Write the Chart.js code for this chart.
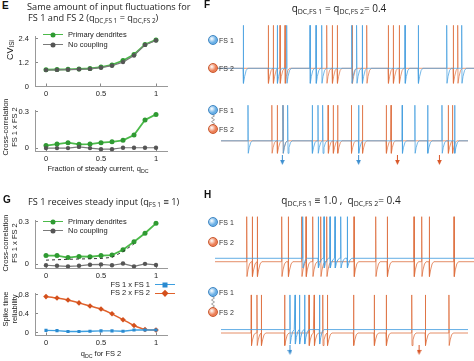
<!DOCTYPE html>
<html><head><meta charset="utf-8">
<script src="https://cdn.jsdelivr.net/npm/chart.js@4.4.1/dist/chart.umd.min.js"></script>
<style>
html,body{margin:0;padding:0;background:#fff;}
#wrap{position:relative;width:474px;height:361px;overflow:hidden;background:#fff;font-family:"Liberation Sans",Arial,sans-serif;color:#222;}
canvas{position:absolute;}
.t{position:absolute;white-space:nowrap;line-height:1;}
.ttl{font-family:"Open Sans",sans-serif;font-size:9.2px;color:#222;}
.ttr{font-family:"Open Sans",sans-serif;font-size:10px;color:#222;}
.pl{font-family:"Liberation Sans",Arial,sans-serif;font-weight:bold;font-size:10px;color:#111;}
sub{font-size:70%;vertical-align:-0.25em;line-height:0;}
.rot{transform:translate(-50%,-50%) rotate(-90deg);text-align:center;}
.cx{transform:translate(-50%,-50%);}
.lg{font-size:7.5px;color:#222;}
.ax{font-size:7.5px;color:#222;}
.ln{position:absolute;height:0;}
.dot{position:absolute;border-radius:50%;transform:translate(-50%,-50%);}
.cell{position:absolute;width:8px;height:8px;border-radius:50%;transform:translate(-50%,-50%);}
.fl{font-size:7px;color:#333;}
</style></head><body><div id="wrap">
<canvas id="cv" width="175" height="77" style="left:0;top:23px"></canvas>
<canvas id="ccE" width="175" height="68" style="left:0;top:97px"></canvas>
<canvas id="ccG" width="175" height="75" style="left:0;top:207px"></canvas>
<canvas id="rel" width="175" height="69" style="left:0;top:280px"></canvas>
<canvas id="fTop" width="259" height="70" style="left:215px;top:20px"></canvas>
<canvas id="fBot" width="259" height="76" style="left:215px;top:95px"></canvas>
<canvas id="hTop" width="259" height="70" style="left:215px;top:208px"></canvas>
<canvas id="hBot" width="259" height="78" style="left:215px;top:283px"></canvas>

<div class="t pl" style="left:2px;top:1px">E</div>
<div class="t ttl" style="left:27px;top:2px">Same amount of input fluctuations for</div>
<div class="t ttl" style="left:28px;top:12.5px">FS 1 and FS 2 (q<sub>DC,FS 1</sub> = q<sub>DC,FS 2</sub>)</div>
<div class="t pl" style="left:3px;top:195px">G</div>
<div class="t ttl" style="left:28px;top:196.5px">FS 1 receives steady input (q<sub>FS 1</sub> ≡ 1)</div>
<div class="t pl" style="left:204px;top:0px">F</div>
<div class="t ttr cx" style="left:339px;top:8px">q<sub>DC,FS 1</sub> = q<sub>DC,FS 2</sub>= 0.4</div>
<div class="t pl" style="left:204px;top:190px">H</div>
<div class="t ttr cx" style="left:341px;top:200px">q<sub>DC,FS 1</sub> ≡ 1.0 ,&nbsp; q<sub>DC,FS 2</sub>= 0.4</div>

<div class="t rot" style="left:10px;top:50px;font-size:9px">CV<sub>ISI</sub></div>
<div class="t rot ax" style="left:9.5px;top:127px;line-height:9px">Cross-correlation<br>FS 1 x FS 2</div>
<div class="t rot ax" style="left:9.5px;top:243px;line-height:9px">Cross-correlation<br>FS 1 x FS 2</div>
<div class="t rot ax" style="left:9.5px;top:309px;line-height:9px">Spike time<br>reliability</div>
<div class="t cx ax" style="left:98px;top:169px">Fraction of steady current, q<sub>DC</sub></div>
<div class="t cx ax" style="left:101px;top:354px">q<sub>DC</sub> for FS 2</div>

<div id="legends"></div>
<div id="cells"></div>
</div>
<script>
// ---------- data ----------
const qdc = [0, 0.1, 0.2, 0.3, 0.4, 0.5, 0.6, 0.7, 0.8, 0.9, 1.0];
const xTickVals = [0, 0.5, 1];
const xTickLabels = ['0', '0.5', '1'];

const cvPrimary = [0.84, 0.85, 0.86, 0.88, 0.90, 0.97, 1.08, 1.30, 1.60, 2.10, 2.33];
const cvNoCoupling = [0.82, 0.83, 0.84, 0.86, 0.88, 0.94, 1.04, 1.22, 1.55, 2.08, 2.30];
const cvTickVals = [0, 1.2, 2.4];
const cvTickLabels = ['0', '1.2', '2.4'];

const ccEPrimary = [0.023, 0.035, 0.047, 0.033, 0.035, 0.047, 0.054, 0.066, 0.110, 0.234, 0.280];
const ccENoCoupling = [0.002, 0.002, 0.002, 0.012, 0.002, -0.007, -0.007, 0.005, 0.005, 0.005, 0.005];
const ccTickVals = [0, 0.3];
const ccTickLabels = ['0', '0.3'];

const ccGPrimary = [0.062, 0.062, 0.048, 0.056, 0.054, 0.062, 0.066, 0.103, 0.160, 0.220, 0.290];
const ccGNoCoupling = [-0.006, -0.010, -0.014, -0.010, -0.002, 0.000, -0.006, 0.006, -0.014, 0.004, -0.004];
const ccGDashedX = [0, 0.1, 0.2, 0.3, 0.4, 0.5, 0.6, 0.7, 0.8];
const ccGDashed = [0.030, 0.033, 0.036, 0.038, 0.040, 0.042, 0.050, 0.090, 0.145];

const relFS1 = [0.054, 0.048, 0.030, 0.030, 0.036, 0.042, 0.042, 0.036, 0.060, 0.060, 0.060];
const relFS2 = [0.758, 0.728, 0.687, 0.627, 0.561, 0.500, 0.400, 0.275, 0.155, 0.072, 0.060];
const relTickVals = [0, 0.4, 0.8];
const relTickLabels = ['0', '0.4', '0.8'];

// spike times (ms)
const fTopFS1 = [28.3, 62.3, 71.7, 95, 101, 106.7, 136.7, 141.7, 147.3, 190, 203.3, 231.7, 246.7];
const fTopFS2 = [53.3, 58.3, 65, 70, 111.7, 117.3, 122.3, 137.3, 151.7, 173.3, 178.3, 184.3, 238.3, 242.7];
const fBotFS1 = [28.3, 65, 70, 95.7, 101.7, 106.7, 144.3, 190, 203.3, 216.7, 231.7, 245];
const fBotFS2 = [53.3, 59, 65, 112.3, 117.7, 122.3, 136.7, 148.3, 173.3, 178.3, 238.3, 242.7];
const hTopFS1 = [87.7, 103.3, 109, 115, 120, 125.7, 132.3];
const hTopFS2 = [31.7, 37.3, 42.3, 66.7, 73.3, 86.7, 91, 97.7, 105.7, 111.7, 139, 160.7, 172.3, 199, 206.7, 214.3, 239];
const hBotFS1 = [72.3, 77.7, 82.3, 87.7, 103.3];
const hBotFS2 = [31.7, 37.7, 42.3, 66.7, 92.3, 97.7, 106.7, 111.7, 139, 160.7, 173.3, 200, 214.3, 239];
const fArrowsFS1 = [64.3, 144.3];
const fArrowsFS2 = [185, 229];
const hArrowsFS1 = [72.3];
const hArrowsFS2 = [207.7];
// membrane levels (mV)
const restF = -60, peakV = 40, troughF = -95;
const restH1 = -52.4, restH2 = -60, troughH1 = -74, troughH2 = -93;
const restH1b = -51, troughH1b = -89;

// ---------- styles ----------
const GREEN = '#4cba4a', GREEN_D = '#2f9a32', GRAY = '#7a7a7a', GRAY_D = '#555';
const BLUE = '#3d9fe0', ORANGE = '#e0622c';
const TBLUE = 'rgba(72,160,224,0.85)', TORANGE = 'rgba(222,110,62,0.78)';
const FONT = {family: 'Liberation Sans', size: 7.5};

const xy = (xs, ys) => xs.map((x, i) => ({x, y: ys[i]}));

function leftChart(id, yMin, yMax, yTicks, yLabels, datasets) {
  return new Chart(document.getElementById(id), {
    type: 'line',
    data: {datasets},
    options: {
      responsive: false, animation: false, devicePixelRatio: 1,
      layout: {padding: {top: 8, right: 8, left: 0, bottom: 0}},
      plugins: {legend: {display: false}, tooltip: {enabled: false}},
      elements: {line: {tension: 0}},
      scales: {
        x: {
          type: 'linear', min: -0.1, max: 1.1,
          afterBuildTicks: a => { a.ticks = xTickVals.map(v => ({value: v})); },
          afterFit: s => { s.height = 12; },
          grid: {display: true, drawOnChartArea: false, drawTicks: true, tickLength: -3, color: '#888'},
          border: {display: true, color: '#999', width: 1},
          ticks: {padding: 6, font: FONT, color: '#222', maxRotation: 0, autoSkip: false,
                  callback: v => xTickLabels[xTickVals.indexOf(v)]}
        },
        y: {
          type: 'linear', min: yMin, max: yMax,
          afterBuildTicks: a => { a.ticks = yTicks.map(v => ({value: v})); },
          afterFit: s => { s.width = 35; },
          grid: {display: true, drawOnChartArea: false, drawTicks: true, tickLength: -3, color: '#888'},
          border: {display: true, color: '#999', width: 1},
          ticks: {padding: 9, font: FONT, color: '#222', autoSkip: false,
                  callback: v => yLabels[yTicks.indexOf(v)]}
        }
      }
    }
  });
}

function ser(data, color, ptColor, width, radius, style, extra) {
  return Object.assign({data, borderColor: color, borderWidth: width, pointRadius: radius,
    pointBackgroundColor: ptColor, pointBorderColor: ptColor, pointBorderWidth: 0,
    pointStyle: style || 'circle', fill: false}, extra || {});
}

leftChart('cv', 0, 2.5, cvTickVals, cvTickLabels, [
  ser(xy(qdc, cvNoCoupling), GRAY, GRAY_D, 1.2, 2.2),
  ser(xy(qdc, cvPrimary), GREEN, GREEN_D, 1.8, 2.5)
]);
leftChart('ccE', -0.026, 0.312, ccTickVals, ccTickLabels, [
  ser(xy(qdc, ccENoCoupling), GRAY, GRAY_D, 1.2, 2.2),
  ser(xy(qdc, ccEPrimary), GREEN, GREEN_D, 1.8, 2.5)
]);
leftChart('ccG', -0.029, 0.31, ccTickVals, ccTickLabels, [
  ser(xy(ccGDashedX, ccGDashed), '#333', '#333', 1, 0, 'circle', {borderDash: [3, 3]}),
  ser(xy(qdc, ccGNoCoupling), GRAY, GRAY_D, 1.2, 2.2),
  ser(xy(qdc, ccGPrimary), GREEN, GREEN_D, 1.8, 2.5)
]);
leftChart('rel', -0.054, 0.823, relTickVals, relTickLabels, [
  ser(xy(qdc, relFS1), BLUE, '#2a8ad0', 1.4, 2.2, 'rect'),
  ser(xy(qdc, relFS2), ORANGE, '#d4501c', 1.4, 2.8, 'rectRot', {tension: 0.25})
]);

// ---------- traces ----------
function buildTrace(times, base, peak, trough) {
  const s = [...times].sort((a, b) => a - b);
  const pts = [{x: 0, y: base}];
  let last = 0;
  s.forEach((t, i) => {
    const nxt = i + 1 < s.length ? s[i + 1] : 1e9;
    const seg = [[t - 0.25, base], [t, peak], [t + 0.3, trough],
                 [t + 1.3, trough + (base - trough) * 0.45],
                 [t + 2.8, trough + (base - trough) * 0.85], [t + 4.5, base]];
    seg.forEach(([x, y]) => { if (x > last && x < nxt - 0.25) { pts.push({x, y}); last = x; } });
  });
  pts.push({x: 259, y: base});
  return pts;
}
function arrowImg(color) {
  const c = document.createElement('canvas'); c.width = 5; c.height = 10;
  const g = c.getContext('2d'); g.strokeStyle = color; g.fillStyle = color; g.lineWidth = 1;
  g.beginPath(); g.moveTo(2.5, 0); g.lineTo(2.5, 7); g.stroke();
  g.beginPath(); g.moveTo(0.2, 5); g.lineTo(4.8, 5); g.lineTo(2.5, 10); g.closePath(); g.fill();
  return c;
}
function traceChart(id, yMin, yMax, datasets) {
  return new Chart(document.getElementById(id), {
    type: 'line',
    data: {datasets},
    options: {
      responsive: false, animation: false, devicePixelRatio: 1,
      layout: {padding: 0},
      plugins: {legend: {display: false}, tooltip: {enabled: false}},
      elements: {line: {tension: 0}, point: {radius: 0}},
      scales: {x: {type: 'linear', display: false, min: 0, max: 259},
               y: {type: 'linear', display: false, min: yMin, max: yMax}}
    }
  });
}
const tr = (data, color, w) => ({data, borderColor: color, borderWidth: w || 0.9, pointRadius: 0, fill: false});
const arrows = (times, y, color) => ({type: 'scatter', data: times.map(t => ({x: t, y})),
  pointStyle: arrowImg(color), pointRadius: 5, showLine: false});

traceChart('fTop', -110.5, 52.3, [
  tr(buildTrace(fTopFS1, restF, peakV, troughF), TBLUE),
  tr(buildTrace(fTopFS2, restF, peakV, troughF), TORANGE)
]);
traceChart('fBot', -127.8, 51.8, [
  tr(buildTrace(fBotFS1, restF, peakV, troughF), TBLUE),
  tr(buildTrace(fBotFS2, restF, peakV, troughF), TORANGE),
  arrows(fArrowsFS1, -113.7, '#3d8fd0'),
  arrows(fArrowsFS2, -113.7, '#d9582a')
]);
traceChart('hTop', -96.2, 59.3, [
  tr(buildTrace(hTopFS1, restH1, peakV, troughH1), TBLUE, 1),
  tr(buildTrace(hTopFS2, restH2, peakV, troughH2), TORANGE, 1)
]);
traceChart('hBot', -117.8, 55.6, [
  tr(buildTrace(hBotFS1, restH1b, peakV, troughH1b), TBLUE, 1),
  tr(buildTrace(hBotFS2, restH2, peakV, troughH2), TORANGE, 1),
  arrows(hArrowsFS1, -104.4, '#3d8fd0'),
  arrows(hArrowsFS2, -104.4, '#d9582a')
]);

// ---------- legends (html) ----------
const L = document.getElementById('legends');
function legendItem(x1, x2, y, color, dotColor, shape, label, textX, align) {
  const ln = document.createElement('div');
  ln.className = 'ln';
  ln.style.cssText = `left:${x1}px;width:${x2 - x1}px;top:${y - 0.75}px;border-top:1.5px solid ${color};`;
  L.appendChild(ln);
  const d = document.createElement('div');
  d.className = 'dot';
  const sz = shape === 'diamond' ? 4.5 : 5;
  d.style.cssText = `left:${(x1 + x2) / 2}px;top:${y}px;width:${sz}px;height:${sz}px;background:${dotColor};` +
    (shape === 'square' ? 'border-radius:0;' : shape === 'diamond' ? 'border-radius:0;transform:translate(-50%,-50%) rotate(45deg);' : '');
  L.appendChild(d);
  const t = document.createElement('div');
  t.className = 't lg';
  t.textContent = label;
  if (align === 'right') t.style.cssText = `right:${474 - textX}px;top:${y}px;transform:translateY(-50%);`;
  else t.style.cssText = `left:${textX}px;top:${y}px;transform:translateY(-50%);`;
  L.appendChild(t);
}
legendItem(43, 63, 35, GREEN, GREEN_D, 'circle', 'Primary dendrites', 68);
legendItem(43, 63, 45, GRAY, GRAY_D, 'circle', 'No coupling', 68);
legendItem(43, 63, 221.7, GREEN, GREEN_D, 'circle', 'Primary dendrites', 68);
legendItem(43, 63, 231, GRAY, GRAY_D, 'circle', 'No coupling', 68);
legendItem(155, 175, 285, BLUE, '#2a8ad0', 'square', 'FS 1 x FS 1', 150, 'right');
legendItem(155, 175, 293.3, ORANGE, '#d4501c', 'diamond', 'FS 2 x FS 2', 150, 'right');

// ---------- cell markers ----------
const C = document.getElementById('cells');
function cell(y, color, edge, label) {
  const c = document.createElement('div');
  c.className = 'cell';
  c.style.cssText = `left:213px;top:${y}px;background:radial-gradient(circle at 35% 35%, #fff8 0, ${color} 55%);border:0.8px solid ${edge};`;
  C.appendChild(c);
  const t = document.createElement('div');
  t.className = 't fl';
  t.textContent = label;
  t.style.cssText = `left:219px;top:${y}px;transform:translateY(-50%);`;
  C.appendChild(t);
}
function zig(y1, y2) {
  const n = 6, pts = [];
  for (let i = 0; i <= n; i++) pts.push(`${213 + (i % 2 ? 1.5 : -1.5)},${y1 + (y2 - y1) * i / n}`);
  C.insertAdjacentHTML('beforeend',
    `<svg style="position:absolute;left:0;top:0" width="474" height="361"><polyline points="${pts.join(' ')}" fill="none" stroke="#888" stroke-width="0.8"/></svg>`);
}
zig(114, 125.5); zig(296, 308);
cell(40, '#6ab0e6', '#3f86c2', 'FS 1'); cell(68.3, '#ec7f56', '#c9582e', 'FS 2');
cell(110, '#6ab0e6', '#3f86c2', 'FS 1'); cell(129.3, '#ec7f56', '#c9582e', 'FS 2');
cell(222.3, '#6ab0e6', '#3f86c2', 'FS 1'); cell(242.3, '#ec7f56', '#c9582e', 'FS 2');
cell(291.7, '#6ab0e6', '#3f86c2', 'FS 1'); cell(311.7, '#ec7f56', '#c9582e', 'FS 2');
</script>
</body></html>
